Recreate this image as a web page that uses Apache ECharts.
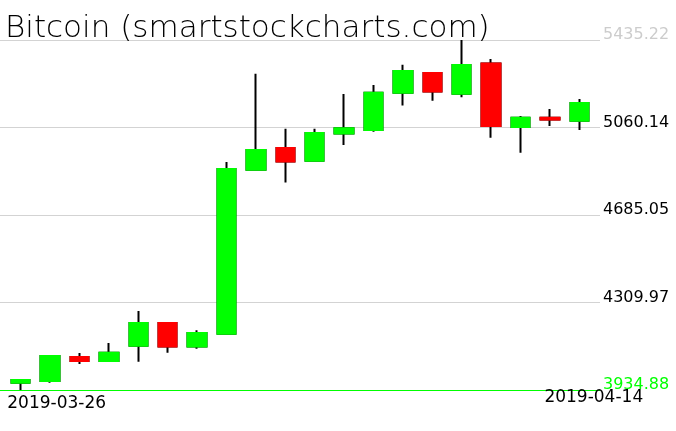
<!DOCTYPE html>
<html>
<head>
<meta charset="utf-8">
<script src="https://cdn.jsdelivr.net/npm/echarts@6/dist/echarts.min.js"></script>
<style>
html,body{margin:0;padding:0;background:#fff;}
#chart{width:676px;height:431px;}
</style>
</head>
<body>
<div id="chart"></div>
<script>
var dates = ['2019-03-26','2019-03-27','2019-03-28','2019-03-29','2019-03-30','2019-03-31','2019-04-01','2019-04-02','2019-04-03','2019-04-04','2019-04-05','2019-04-06','2019-04-07','2019-04-08','2019-04-09','2019-04-10','2019-04-11','2019-04-12','2019-04-13','2019-04-14'];
var openV  = [3966, 3973, 4076, 4059, 4125, 4222, 4121, 4176, 4879, 4972, 4918, 5034, 5049, 5209, 5294, 5205, 5334, 5062, 5102, 5089];
var closeV = [3978, 4081, 4059, 4095, 4222, 4121, 4179, 4882, 4964, 4914, 5037, 5057, 5209, 5302, 5214, 5328, 5067, 5102, 5094, 5165];
var lowV   = [3935, 3966, 4046, 4055, 4056, 4095, 4112, 4172, 4877, 4824, 4914, 4985, 5042, 5154, 5175, 5190, 5016, 4952, 5067, 5049];
var highV  = [3978, 4081, 4094, 4136, 4274, 4226, 4191, 4912, 5291, 5055, 5055, 5204, 5242, 5329, 5295, 5435, 5354, 5109, 5139, 5182];
var yTicks = ['3934.88','4309.97','4685.05','5060.14','5435.22'];
var yMin = 3934.88, yMax = 5435.22, yStep = 375.085;
var titleText = 'Bitcoin (smartstockcharts.com)';

var wickData = [], bodyData = [];
for (var i = 0; i < dates.length; i++) {
  wickData.push([openV[i], closeV[i], lowV[i], highV[i]]);
  bodyData.push([openV[i], closeV[i], Math.min(openV[i], closeV[i]), Math.max(openV[i], closeV[i])]);
}

var chart = echarts.init(document.getElementById('chart'), null, {renderer: 'canvas'});
var FONT = 'DejaVu Sans';
chart.setOption({
  animation: false,
  backgroundColor: '#ffffff',
  title: {
    text: titleText,
    left: 0,
    top: 8,
    textStyle: {fontFamily: FONT, fontSize: 31, fontWeight: 200, color: '#000'}
  },
  grid: [
    {left: 6, right: 82, top: 40, bottom: 41},
    {left: 0, right: 76, top: 40, bottom: 41}
  ],
  xAxis: [
    {
      type: 'category', gridIndex: 0, data: dates, boundaryGap: true,
      axisLine: {show: false}, axisTick: {show: false}, splitLine: {show: false},
      axisLabel: {
        interval: function (idx) { return idx === 0 || idx === dates.length - 1; },
        margin: -1,
        fontFamily: FONT, fontSize: 17, color: '#000',
        formatter: function (v, idx) { return idx === 0 ? '{a|' + v + '}' : '{b|' + v + '}'; },
        rich: {
          a: {fontFamily: FONT, fontSize: 17, color: '#000', padding: [6, 0, 0, 72]},
          b: {fontFamily: FONT, fontSize: 17, color: '#000', padding: [0, 0, 0, 29]}
        }
      }
    },
    {
      type: 'value', gridIndex: 1, min: 0, max: 1,
      axisLine: {show: true, onZero: false, lineStyle: {color: '#00ff00', width: 1}},
      axisTick: {show: false}, axisLabel: {show: false}, splitLine: {show: false}
    }
  ],
  yAxis: [
    {
      type: 'value', gridIndex: 0, min: yMin, max: yMax, interval: yStep,
      show: false, splitLine: {show: false}
    },
    {
      type: 'value', gridIndex: 1, min: yMin, max: yMax, interval: yStep, position: 'right',
      axisLine: {show: false}, axisTick: {show: false},
      splitLine: {show: true, lineStyle: {color: '#d3d3d3', width: 1}},
      axisLabel: {
        margin: 3, verticalAlign: 'bottom', fontFamily: FONT, fontSize: 16, lineHeight: 10,
        formatter: function (v) {
          var k = Math.round((v - yMin) / yStep);
          var t = yTicks[k];
          if (k === 0) return '{g|' + t + '}';
          if (k === yTicks.length - 1) return '{l|' + t + '}';
          return '{n|' + t + '}';
        },
        rich: {
          g: {color: '#00ff00', fontFamily: FONT, fontSize: 16, lineHeight: 10},
          l: {color: '#cccccc', fontFamily: FONT, fontSize: 16, lineHeight: 10},
          n: {color: '#000000', fontFamily: FONT, fontSize: 16, lineHeight: 10}
        }
      }
    }
  ],
  series: [
    {
      type: 'candlestick', xAxisIndex: 0, yAxisIndex: 0, data: wickData,
      barWidth: 19, clip: false,
      itemStyle: {color: '#000', color0: '#000', borderColor: '#000', borderColor0: '#000', borderWidth: 2}
    },
    {
      type: 'candlestick', xAxisIndex: 0, yAxisIndex: 0, data: bodyData,
      barWidth: 19, clip: false,
      itemStyle: {color: '#00ff00', color0: '#ff0000', borderColor: '#00ff00', borderColor0: '#ff0000', borderWidth: 2}
    }
  ]
});
</script>
</body>
</html>
